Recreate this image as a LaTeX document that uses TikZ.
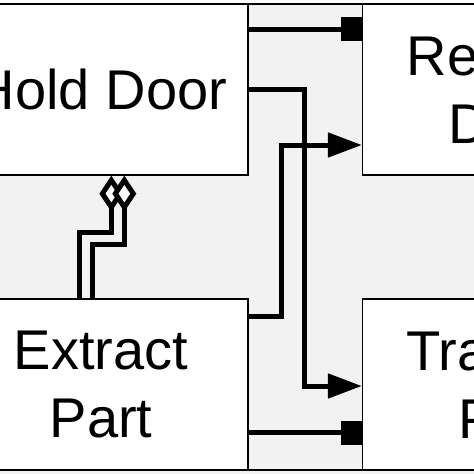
\documentclass[tikz,border=0pt]{standalone}
\usepackage{fontspec}
\setmainfont{Liberation Sans}
\usepackage{tikz}
\usetikzlibrary{arrows.meta,calc}

\definecolor{panelgray}{HTML}{F2F2F2}
\tikzset{
  activity/.style={draw, line width=1.3pt, fill=white, minimum width=294pt, minimum height=171pt,
    inner sep=0pt, align=center, font=\fontsize{56}{68}\selectfont},
  flow/.style={line width=5pt},
  blob/.style={flow, -{Square[length=21pt,width=24pt]}},
  push/.style={flow, -{Triangle[length=34pt,width=24pt]}},
  hook/.style={flow, -{Diamond[fill=white,length=36pt,width=24pt,line width=5pt]}}
}

\begin{document}
\begin{tikzpicture}[x=1pt,y=-1pt]
\useasboundingbox (0,0) rectangle (474,474);
\clip (0,0) rectangle (474,474);
\fill[panelgray] (0,4) rectangle (474,474);
\draw[line width=1.3pt] (-10,4) -- (484,4) (-10,470) -- (484,470);

\node[activity] (hold) at (101,89.5) {Hold Door};
\node[activity] (release) at (509.5,89.5) {Release\\Door};
\node[activity] (extract) at (101,384.5) {Extract\\Part};
\node[activity] (transfer) at (509.5,384.5) {Transfer\\Part};

% Connectors
\draw[blob] ($(hold.north east)+(0,26)$) coordinate (h1) -- (h1 -| release.west);
\draw[push] (hold.east) -- ++(56,0) |- ($(transfer.west)+(0,1.5)$);
\draw[push] ($(extract.north east)+(0,18)$) -- ++(33,0) |- ($(release.west)+(0,55.5)$);
\draw[blob] ($(extract.south east)+(0,-38)$) coordinate (e1) -- (e1 -| transfer.west);
\draw[hook] ($(extract.north west)+(126,0)$) -- ++(0,-66) -| ($(hold.south west)+(158,0)$);
\draw[hook] ($(extract.north west)+(139,0)$) -- ++(0,-54) -| ($(hold.south west)+(171,0)$);
\end{tikzpicture}
\end{document}
